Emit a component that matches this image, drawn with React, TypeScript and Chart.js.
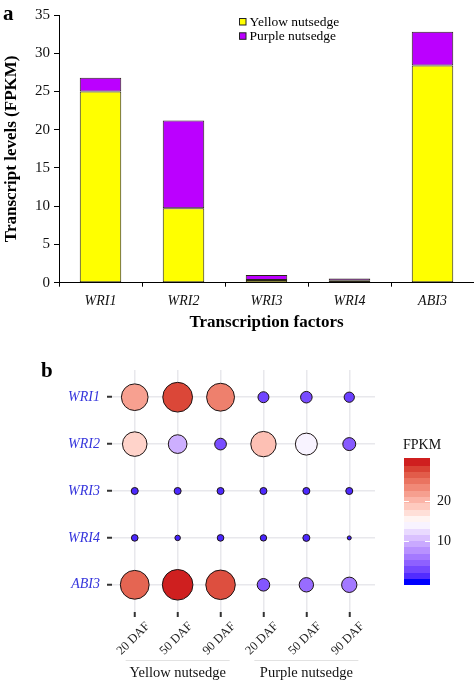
import { useEffect, useRef } from 'react';
import { Chart, registerables } from 'chart.js';

Chart.register(...registerables);

const SERIF = '"Liberation Serif", "Times New Roman", serif';

// ---- Panel a: stacked transcript levels ----
const factors = ['WRI1', 'WRI2', 'WRI3', 'WRI4', 'ABI3'];
const yellowFpkm = [25.0, 9.75, 0.35, 0.25, 28.4];
const purpleFpkm = [1.8, 11.45, 0.65, 0.3, 4.4];
const speciesNames = ['Yellow nutsedge', 'Purple nutsedge'];
const speciesColors = ['#ffff00', '#bb00ff'];
const barAxisMax = 35;
const barAxisStep = 5;

// ---- Panel b: expression by developmental stage ----
const stageLabels = ['20 DAF', '50 DAF', '90 DAF', '20 DAF', '50 DAF', '90 DAF'];
const wri1Fpkm = [22.5, 29.0, 25.0, 2.2, 2.6, 1.8];
const wri2Fpkm = [18.5, 9.5, 2.7, 20.0, 14.2, 3.6];
const wri3Fpkm = [0.5, 0.5, 0.5, 0.5, 0.5, 0.5];
const wri4Fpkm = [0.4, 0.2, 0.4, 0.35, 0.5, 0.1];
const abi3Fpkm = [27.0, 31.0, 28.5, 3.3, 4.8, 5.7];
const colorbarTicks = [10, 20];
const colorLimits = [-1, 31];

const bubbleRows = [wri1Fpkm, wri2Fpkm, wri3Fpkm, wri4Fpkm, abi3Fpkm];

// size scale: radius grows with the square root of FPKM
const allValues = bubbleRows.flat();
const vMin = Math.min(...allValues);
const vMax = Math.max(...allValues);
const R_MIN = 2;
const R_MAX = 15.3;
function radiusFor(v: number) {
  const t = (v - vMin) / (vMax - vMin);
  return R_MIN + (R_MAX - R_MIN) * Math.sqrt(Math.max(0, t));
}

// diverging colour scale blue -> white -> red, interpolated in CIE Lab
type RGB = [number, number, number];
const LOW: RGB = [0, 0, 255];
const MID: RGB = [255, 255, 255];
const HIGH: RGB = [207, 31, 31];

function toLin(c: number) {
  c /= 255;
  return c <= 0.04045 ? c / 12.92 : Math.pow((c + 0.055) / 1.055, 2.4);
}
function fromLin(c: number) {
  const v = c <= 0.0031308 ? 12.92 * c : 1.055 * Math.pow(c, 1 / 2.4) - 0.055;
  return Math.round(Math.max(0, Math.min(1, v)) * 255);
}
const XN = 0.95047, YN = 1.0, ZN = 1.08883;
function fLab(t: number) {
  return t > 0.008856 ? Math.cbrt(t) : 7.787 * t + 16 / 116;
}
function fInv(t: number) {
  return t > 0.206893 ? t * t * t : (t - 16 / 116) / 7.787;
}
function rgbToLab([r, g, b]: RGB): RGB {
  const R = toLin(r), G = toLin(g), B = toLin(b);
  const X = (0.4124 * R + 0.3576 * G + 0.1805 * B) / XN;
  const Y = (0.2126 * R + 0.7152 * G + 0.0722 * B) / YN;
  const Z = (0.0193 * R + 0.1192 * G + 0.9505 * B) / ZN;
  const fx = fLab(X), fy = fLab(Y), fz = fLab(Z);
  return [116 * fy - 16, 500 * (fx - fy), 200 * (fy - fz)];
}
function labToRgb([L, a, b]: RGB): RGB {
  const fy = (L + 16) / 116;
  const fx = fy + a / 500;
  const fz = fy - b / 200;
  const X = fInv(fx) * XN, Y = fInv(fy) * YN, Z = fInv(fz) * ZN;
  const R = 3.2406 * X - 1.5372 * Y - 0.4986 * Z;
  const G = -0.9689 * X + 1.8758 * Y + 0.0415 * Z;
  const B = 0.0557 * X - 0.204 * Y + 1.057 * Z;
  return [fromLin(R), fromLin(G), fromLin(B)];
}
const LAB_LOW = rgbToLab(LOW), LAB_MID = rgbToLab(MID), LAB_HIGH = rgbToLab(HIGH);
function colorFor(v: number) {
  const [lo, hi] = colorLimits;
  const mid = (lo + hi) / 2;
  let a: RGB, b: RGB, t: number;
  if (v <= mid) {
    a = LAB_LOW; b = LAB_MID; t = (v - lo) / (mid - lo);
  } else {
    a = LAB_MID; b = LAB_HIGH; t = (v - mid) / (hi - mid);
  }
  t = Math.max(0, Math.min(1, t));
  const lab: RGB = [a[0] + (b[0] - a[0]) * t, a[1] + (b[1] - a[1]) * t, a[2] + (b[2] - a[2]) * t];
  const [r, g, bb] = labToRgb(lab);
  return `rgb(${r},${g},${bb})`;
}

const bubblePoints = bubbleRows.flatMap((row, ri) =>
  row.map((v, ci) => ({ x: ci, y: ri, r: radiusFor(v), v }))
);

// ---- extra drawing for panel a: tag and legend ----
const panelAExtras = {
  id: 'panelAExtras',
  afterDraw(chart: any) {
    const ctx = chart.ctx as CanvasRenderingContext2D;
    ctx.save();
    ctx.fillStyle = '#000';
    ctx.font = `bold 21px ${SERIF}`;
    ctx.textAlign = 'left';
    ctx.textBaseline = 'alphabetic';
    ctx.fillText('a', 3, 20);

    ctx.font = `13.5px ${SERIF}`;
    ctx.textBaseline = 'middle';
    chart.data.datasets.forEach((ds: any, i: number) => {
      const y = 22 + i * 14.3;
      ctx.fillStyle = ds.backgroundColor;
      ctx.fillRect(239.5, y - 3.5, 6.5, 6.5);
      ctx.strokeStyle = '#222';
      ctx.lineWidth = 1;
      ctx.strokeRect(239.5, y - 3.5, 6.5, 6.5);
      ctx.fillStyle = '#000';
      ctx.fillText(ds.label, 249.5, y);
    });
    ctx.restore();
  },
};

// ---- extra drawing for panel b: tag, group captions, colour bar ----
const panelBExtras = {
  id: 'panelBExtras',
  afterDraw(chart: any) {
    const ctx = chart.ctx as CanvasRenderingContext2D;
    const xScale = chart.scales.x;
    ctx.save();
    ctx.fillStyle = '#000';
    ctx.font = `bold 21px ${SERIF}`;
    ctx.textAlign = 'left';
    ctx.textBaseline = 'alphabetic';
    ctx.fillText('b', 41, 37);

    // species captions under the stage labels
    ctx.font = `14.5px ${SERIF}`;
    ctx.textAlign = 'center';
    ctx.textBaseline = 'middle';
    speciesNames.forEach((name, g) => {
      const first = xScale.getPixelForValue(g * 3);
      const last = xScale.getPixelForValue(g * 3 + 2);
      const mid = (first + last) / 2;
      ctx.strokeStyle = '#e2e2e2';
      ctx.lineWidth = 1;
      ctx.beginPath();
      ctx.moveTo(mid - 52, 320.5);
      ctx.lineTo(mid + 52, 320.5);
      ctx.stroke();
      ctx.fillStyle = '#111';
      ctx.fillText(name, mid, 333);
    });

    // colour bar
    const [lo, hi] = colorLimits;
    const barX = 404, barW = 26, barTop = 118, barBottom = 244;
    const barH = barBottom - barTop;
    const nBins = 20;
    const binH = barH / nBins;
    for (let i = 0; i < nBins; i++) {
      const v = lo + ((hi - lo) * i) / (nBins - 1);
      ctx.fillStyle = colorFor(v);
      const yTop = barBottom - (i + 1) * binH;
      ctx.fillRect(barX, Math.floor(yTop), barW, Math.ceil(binH) + 1);
    }
    const yFor = (v: number) => barBottom - ((v - lo) / (hi - lo)) * barH;
    ctx.font = `14px ${SERIF}`;
    ctx.textAlign = 'left';
    colorbarTicks.forEach((t) => {
      const y = Math.round(yFor(t)) + 0.5;
      ctx.strokeStyle = '#ffffff';
      ctx.lineWidth = 1;
      ctx.beginPath();
      ctx.moveTo(barX, y);
      ctx.lineTo(barX + 5, y);
      ctx.moveTo(barX + barW - 5, y);
      ctx.lineTo(barX + barW, y);
      ctx.stroke();
      ctx.fillStyle = '#111';
      ctx.fillText(String(t), 437, y);
    });
    ctx.fillStyle = '#111';
    ctx.fillText('FPKM', 403, 105);
    ctx.restore();
  },
};

function barConfig(): any {
  return {
    type: 'bar',
    data: {
      labels: factors,
      datasets: [
        {
          label: speciesNames[0],
          data: yellowFpkm,
          backgroundColor: speciesColors[0],
          borderColor: '#2a2618',
          borderWidth: 1,
          borderSkipped: false,
        },
        {
          label: speciesNames[1],
          data: purpleFpkm,
          backgroundColor: speciesColors[1],
          borderColor: '#2a2618',
          borderWidth: 1,
          borderSkipped: false,
        },
      ],
    },
    options: {
      responsive: false,
      animation: false,
      events: [],
      layout: { padding: { top: 15, right: 0, left: 0, bottom: 0 } },
      datasets: { bar: { barPercentage: 0.5, categoryPercentage: 1 } },
      plugins: { legend: { display: false }, tooltip: { enabled: false } },
      scales: {
        x: {
          stacked: true,
          grid: {
            display: true,
            drawOnChartArea: false,
            drawTicks: true,
            tickLength: 4,
            tickColor: '#000',
          },
          border: { display: true, color: '#000', width: 1 },
          ticks: {
            color: '#111',
            font: { family: SERIF, size: 14, style: 'italic' },
            padding: 6,
            maxRotation: 0,
            minRotation: 0,
          },
          title: {
            display: true,
            text: 'Transcription factors',
            color: '#000',
            font: { family: SERIF, size: 17, weight: 'bold' },
            padding: { top: 0, bottom: 7 },
          },
          afterFit: (s: any) => {
            s.height = 57.3;
          },
        },
        y: {
          stacked: true,
          min: 0,
          max: barAxisMax,
          grid: {
            display: true,
            drawOnChartArea: false,
            drawTicks: true,
            tickLength: 5,
            tickColor: '#000',
          },
          border: { display: true, color: '#000', width: 1 },
          ticks: {
            stepSize: barAxisStep,
            color: '#111',
            font: { family: SERIF, size: 15 },
            padding: 4,
          },
          title: {
            display: true,
            text: 'Transcript levels (FPKM)',
            color: '#000',
            font: { family: SERIF, size: 17, weight: 'bold' },
            padding: { top: 1, bottom: 0 },
          },
          afterFit: (s: any) => {
            s.width = 59;
          },
        },
      },
    },
    plugins: [panelAExtras],
  };
}

function dotConfig(): any {
  return {
    type: 'bubble',
    data: {
      datasets: [
        {
          data: bubblePoints,
          backgroundColor: bubblePoints.map((p) => colorFor(p.v)),
          borderColor: '#1c1414',
          borderWidth: 1,
          clip: false,
        },
      ],
    },
    options: {
      responsive: false,
      animation: false,
      events: [],
      layout: { padding: { top: 30, right: 99, left: 0, bottom: 0 } },
      plugins: { legend: { display: false }, tooltip: { enabled: false } },
      scales: {
        x: {
          type: 'linear',
          min: -0.53,
          max: 5.6,
          afterBuildTicks: (s: any) => {
            s.ticks = stageLabels.map((_, i) => ({ value: i }));
          },
          grid: {
            color: '#e8e8ec',
            lineWidth: 1.5,
            drawTicks: true,
            tickLength: 5,
            tickColor: '#333',
            tickWidth: 2,
          },
          border: { display: false },
          ticks: {
            autoSkip: false,
            color: '#222',
            font: { family: SERIF, size: 12.5 },
            minRotation: 45,
            maxRotation: 45,
            labelOffset: 13,
            padding: 2,
            callback: (v: any) => stageLabels[v] ?? '',
          },
          afterFit: (s: any) => {
            s.height = 71;
          },
        },
        y: {
          type: 'linear',
          reverse: true,
          min: -0.58,
          max: 4.58,
          afterBuildTicks: (s: any) => {
            s.ticks = factors.map((_, i) => ({ value: i }));
          },
          grid: {
            color: '#e8e8ec',
            lineWidth: 1.5,
            drawTicks: true,
            tickLength: 5,
            tickColor: '#333',
            tickWidth: 2,
          },
          border: { display: false },
          ticks: {
            autoSkip: false,
            color: '#3434dc',
            font: { family: SERIF, size: 14, style: 'italic' },
            padding: 7,
            callback: (v: any) => factors[v] ?? '',
          },
          afterFit: (s: any) => {
            s.width = 112;
          },
        },
      },
    },
    plugins: [panelBExtras],
  };
}

export default function App() {
  const barRef = useRef<HTMLCanvasElement>(null);
  const dotRef = useRef<HTMLCanvasElement>(null);

  useEffect(() => {
    const barChart = new Chart(barRef.current as HTMLCanvasElement, barConfig());
    const dotChart = new Chart(dotRef.current as HTMLCanvasElement, dotConfig());
    return () => {
      barChart.destroy();
      dotChart.destroy();
    };
  }, []);

  return (
    <div style={{ position: 'absolute', left: 0, top: 0, width: 474, height: 683, background: '#fff' }}>
      <canvas ref={barRef} width={474} height={340} style={{ display: 'block' }} />
      <canvas ref={dotRef} width={474} height={343} style={{ display: 'block' }} />
    </div>
  );
}
